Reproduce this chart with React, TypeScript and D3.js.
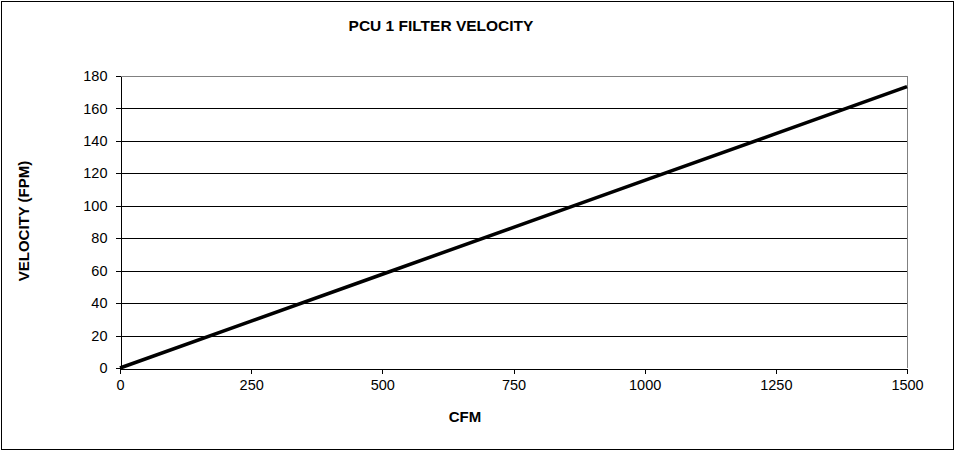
import { useEffect, useRef } from "react"
import * as d3 from "d3"

const cfm = [0, 250, 500, 750, 1000, 1250, 1500]
const velocity = [0, 28.9, 57.8, 86.7, 115.6, 144.5, 173.4]
const xTicks = [0, 250, 500, 750, 1000, 1250, 1500]
const yTicks = [0, 20, 40, 60, 80, 100, 120, 140, 160, 180]

const TITLE = "PCU 1 FILTER VELOCITY"
const X_TITLE = "CFM"
const Y_TITLE = "VELOCITY (FPM)"

const W = 956
const H = 451
const FONT = "'Liberation Sans', Arial, sans-serif"

export default function App() {
  const svgRef = useRef<SVGSVGElement>(null)

  useEffect(() => {
    const svg = d3.select(svgRef.current!)
    svg.selectAll("*").remove()

    const left = 120
    const right = 907
    const top = 76
    const bottom = 368

    const x = d3.scaleLinear().domain([0, 1500]).range([left, right])
    const y = d3.scaleLinear().domain([0, 180]).range([bottom, top])

    // chart border
    svg
      .append("rect")
      .attr("x", 1.5)
      .attr("y", 1.5)
      .attr("width", 952)
      .attr("height", 448)
      .attr("fill", "#fff")
      .attr("stroke", "#000")
      .attr("stroke-width", 1)

    // gridlines
    svg
      .append("g")
      .selectAll("line")
      .data(yTicks.filter((t) => t > 0 && t < 180))
      .enter()
      .append("line")
      .attr("x1", left)
      .attr("x2", right)
      .attr("y1", (d) => Math.round(y(d)) + 0.5)
      .attr("y2", (d) => Math.round(y(d)) + 0.5)
      .attr("stroke", "#000")
      .attr("shape-rendering", "crispEdges")

    // plot border (top/right grey)
    svg
      .append("path")
      .attr("d", `M${left},${top + 0.5}H${right + 0.5}V${bottom}`)
      .attr("fill", "none")
      .attr("stroke", "#808080")
      .attr("shape-rendering", "crispEdges")

    // y axis
    const yAxis = d3
      .axisLeft(y)
      .tickValues(yTicks)
      .tickFormat(d3.format("d"))
      .tickSize(5)
      .tickPadding(8)
      .tickSizeOuter(0)
    const gy = svg.append("g").attr("transform", `translate(${left + 0.5},0)`).call(yAxis)
    gy.selectAll("line,path").attr("stroke", "#000").attr("shape-rendering", "crispEdges")
    gy.selectAll("text")
      .attr("font-family", FONT)
      .attr("font-size", 14.5)
      .attr("fill", "#000")

    // x axis
    const xAxis = d3
      .axisBottom(x)
      .tickValues(xTicks)
      .tickFormat(d3.format("d"))
      .tickSize(5)
      .tickPadding(6)
      .tickSizeOuter(0)
    const gx = svg.append("g").attr("transform", `translate(0,${bottom + 0.5})`).call(xAxis)
    gx.selectAll("line,path").attr("stroke", "#000").attr("shape-rendering", "crispEdges")
    gx.selectAll("text")
      .attr("font-family", FONT)
      .attr("font-size", 14.5)
      .attr("fill", "#000")

    // series line
    const pts = cfm.map((c, i) => [c, velocity[i]] as [number, number])
    const line = d3
      .line<[number, number]>()
      .x((d) => x(d[0]))
      .y((d) => y(d[1]))
    svg
      .append("path")
      .datum(pts)
      .attr("d", line)
      .attr("fill", "none")
      .attr("stroke", "#000")
      .attr("stroke-width", 3.5)

    // titles
    svg
      .append("text")
      .attr("x", 441)
      .attr("y", 31)
      .attr("text-anchor", "middle")
      .attr("font-family", FONT)
      .attr("font-weight", "bold")
      .attr("font-size", 15.5)
      .text(TITLE)

    svg
      .append("text")
      .attr("x", 465)
      .attr("y", 422)
      .attr("text-anchor", "middle")
      .attr("font-family", FONT)
      .attr("font-weight", "bold")
      .attr("font-size", 15)
      .text(X_TITLE)

    svg
      .append("text")
      .attr("transform", `translate(29,221) rotate(-90)`)
      .attr("text-anchor", "middle")
      .attr("font-family", FONT)
      .attr("font-weight", "bold")
      .attr("font-size", 15)
      .text(Y_TITLE)
  }, [])

  return (
    <div style={{ position: "absolute", left: 0, top: 0 }}>
      <svg ref={svgRef} width={W} height={H} style={{ display: "block" }} />
    </div>
  )
}
